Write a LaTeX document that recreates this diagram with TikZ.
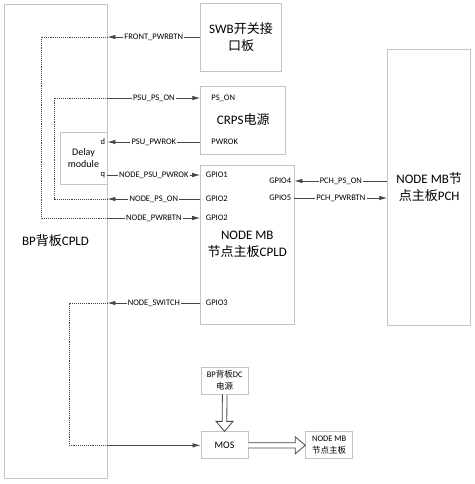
\documentclass[tikz,border=0pt]{standalone}
\usepackage{fontspec}
\setmainfont{Carlito}
\newfontfamily\cjk{Noto Sans CJK SC}
\usepackage{xcolor}
\usepackage{tikz}
\usetikzlibrary{arrows.meta}
\usetikzlibrary{calc}
\usetikzlibrary{positioning}

\definecolor{boxgray}{RGB}{196,196,196}
\definecolor{linegray}{RGB}{70,70,70}

\begin{document}
\begin{tikzpicture}[x=1pt,y=-1pt,>={Latex[length=8pt,width=4.5pt]}, line width=0.8pt]
					\tikzstyle{box}=[draw=boxgray, line width=0.9pt, inner sep=0pt, align=center, font=\fontsize{13}{17}\selectfont]
					\tikzstyle{sbox}=[box, minimum width=47pt, minimum height=27pt, font=\fontsize{8.5}{12.5}\selectfont]
					\tikzstyle{pin}=[inner sep=0pt, font=\fontsize{8.5}{10}\selectfont]
					\tikzstyle{sig}=[draw=linegray, ->]
					\tikzstyle{lbl}=[fill=white, inner sep=1.2pt, anchor=center, font=\fontsize{8.5}{10}\selectfont, midway]
					\tikzstyle{route}=[draw=linegray, densely dotted, line width=0.9pt]
					\tikzstyle{fat}=[draw=linegray, line width=0.8pt, fill=white]
					\useasboundingbox (0,0) rectangle (474,484);

					\node[box, minimum width=103pt, minimum height=474pt] (bpcpld) at (55.5,241) {BP{\cjk 背板}CPLD};
					\node[box, minimum width=81pt, minimum height=68pt] (swb) at (241,37) {SWB{\cjk 开关接}\\{\cjk 口板}};
					\node[box, minimum width=85pt, minimum height=68pt] (crps) at (243.2,120) {CRPS{\cjk 电源}};
					\node[box, minimum width=47pt, minimum height=52pt, font=\fontsize{10}{12}\selectfont] (delay) at (83.5,158) {Delay\\module};
					\node[box, minimum width=93.3pt, minimum height=159pt] (nodecpld) at (247.3,244.5) {NODE MB\\{\cjk 节点主板}CPLD};
					\node[box, minimum width=83pt, minimum height=276pt] (pch) at (429.2,187) {NODE MB{\cjk 节}\\{\cjk 点主板}PCH};
					\node[sbox] (bpdc) at (224.7,380.5) {BP{\cjk 背板}DC\\{\cjk 电源}};
					\node[sbox, font=\fontsize{10}{12}\selectfont] (mos) at (224.5,445.3) {MOS};
					\node[sbox] (nodemb) at (329.2,445.3) {NODE MB\\{\cjk 节点主板}};

					\node[pin, anchor=west] (pson) at (211,98) {PS\_ON};
					\node[pin, anchor=west] (pwrok) at (211,142) {PWROK};
					\node[pin, anchor=east] (din) at (105.5,142) {d};
					\node[pin, anchor=east] (qout) at (105.5,175) {q};
					\node[pin, anchor=west] (gpio1) at (205.5,175) {GPIO1};
					\node[pin, anchor=west] (gpio2a) at (205.5,199) {GPIO2};
					\node[pin, anchor=west] (gpio2b) at (205.5,218) {GPIO2};
					\node[pin, anchor=west] (gpio3) at (205.5,303) {GPIO3};
					\node[pin, anchor=east] (gpio4) at (291.5,181) {GPIO4};
					\node[pin, anchor=east] (gpio5) at (291.5,198) {GPIO5};

					\coordinate (ra) at (41,0);
					\coordinate (rb) at (54,0);
					\coordinate (rc) at (69,0);

					\path
						(swb.west) edge[sig] node[lbl] {FRONT\_PWRBTN} (swb.west -| bpcpld.east)
						(pson -| bpcpld.east) edge[sig] node[lbl] {PSU\_PS\_ON} (pson -| crps.west)
						(pwrok -| crps.west) edge[sig] node[lbl] {PSU\_PWROK} (pwrok -| delay.east)
						(qout -| delay.east) edge[sig] node[lbl] {NODE\_PSU\_PWROK} (gpio1 -| nodecpld.west)
						(gpio2a -| nodecpld.west) edge[sig] node[lbl] {NODE\_PS\_ON} (gpio2a -| bpcpld.east)
						(gpio2b -| bpcpld.east) edge[sig] node[lbl] {NODE\_PWRBTN} (gpio2b -| nodecpld.west)
						(gpio3 -| nodecpld.west) edge[sig] node[lbl] {NODE\_SWITCH} (gpio3 -| bpcpld.east)
						(gpio4 -| pch.west) edge[sig] node[lbl] {PCH\_PS\_ON} (gpio4 -| nodecpld.east)
						(gpio5 -| nodecpld.east) edge[sig] node[lbl] {PCH\_PWRBTN} (gpio5 -| pch.west)
						(mos.west -| bpcpld.east) edge[sig] (mos.west);

					\draw[route] (swb.west -| bpcpld.east) -- (swb.west -| ra) -- (gpio2b -| ra) -- (gpio2b -| bpcpld.east);
					\draw[route] (pson -| bpcpld.east) -- (pson -| rb) -- (gpio2a -| rb) -- (gpio2a -| bpcpld.east);
					\draw[route] (gpio3 -| bpcpld.east) -- (gpio3 -| rc) -- (mos.west -| rc) -- (mos.west -| bpcpld.east);

					\draw[fat] ($(bpdc.south)+(-2.3,0)$) -- ($(mos.north)+(-2.3,-10)$) -- ($(mos.north)+(-8.5,-10)$) -- (mos.north)
						-- ($(mos.north)+(8.5,-10)$) -- ($(mos.north)+(2.3,-10)$) -- ($(bpdc.south)+(2.3,0)$);
					\draw[fat] ($(mos.east)+(0,-2.6)$) -- ($(nodemb.west)+(-10,-2.6)$) -- ($(nodemb.west)+(-10,-8.5)$) -- (nodemb.west)
						-- ($(nodemb.west)+(-10,8.5)$) -- ($(nodemb.west)+(-10,2.6)$) -- ($(mos.east)+(0,2.6)$);
				\end{tikzpicture}
\end{document}
